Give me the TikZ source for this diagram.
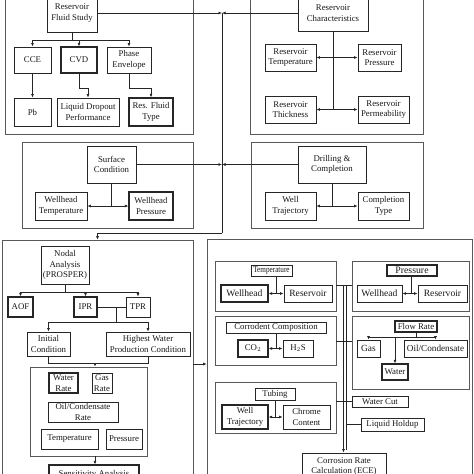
\documentclass[tikz,border=0pt]{standalone}
\usepackage{fontspec}
\setmainfont{Liberation Serif}
\usetikzlibrary{arrows.meta,calc}
\tikzset{
 bx/.style={draw=black!85,line width=0.9pt,rectangle,inner sep=0pt,align=center,font=\fontsize{8.8}{10.6}\selectfont,text=black!90},
 grp/.style={draw=black!65,line width=0.7pt},
 thk/.style={line width=1.25pt},
 ln/.style={draw=black!85,line width=0.8pt},
 arr/.style={ln,-{Latex[length=3.5pt,width=3pt]}},
}
\newcommand\bx[7][]{\node[bx,#1,minimum width={#5-#3},minimum height={#6-#4}] (#2) at ({(#3+#5)/2},{(#4+#6)/2}) {#7};}
\newcommand\fsz[1]{\fontsize{#1}{10.6}\selectfont}
\begin{document}
\begin{tikzpicture}[x=1pt,y=-1pt]
\useasboundingbox (0,0) rectangle (474,474);
\fill[white] (0,0) rectangle (474,474);
% groups
\bx[grp]{g1}{5}{-10}{193}{134}{}
\bx[grp]{g2}{250}{-10}{423}{134}{}
\bx[grp]{g3}{22}{142}{193}{228}{}
\bx[grp]{g4}{251}{142}{423}{228}{}
\bx[grp]{g5}{2}{240}{193}{490}{}
\bx[grp]{g6}{207}{239}{472}{490}{}
\bx[grp]{ib}{30}{367}{147}{456}{}
\bx[grp]{tg}{215}{261}{336}{311}{}
\bx[grp]{pg}{352}{261}{469}{311}{}
\bx[grp]{cg}{215}{316}{336}{365}{}
\bx[grp]{fg}{352}{316}{469}{389}{}
\bx[grp]{tug}{215}{382}{336}{433}{}
% top-left
\bx{rfs}{47}{-6}{97}{32}{Reservoir\\Fluid Study}
\bx{cce}{14}{47}{51}{73}{CCE}
\bx[thk]{cvd}{61}{47}{97}{73}{CVD}
\bx{pe}{107}{47}{151}{73}{Phase\\Envelope}
\bx{pb}{14}{98}{51}{126}{Pb}
\bx{ldp}{57}{98}{119}{126}{Liquid Dropout\\Performance}
\bx[thk]{rft}{129}{98}{173}{126}{Res. Fluid\\Type}
% top-right
\bx{rc}{298}{-5}{368}{31}{Reservoir\\Characteristics}
\bx{rt}{265}{44}{316}{71}{Reservoir\\Temperature}
\bx{rp}{358}{44}{401}{71}{Reservoir\\Pressure}
\bx{rth}{265}{96}{316}{123}{Reservoir\\Thickness}
\bx{rpm}{358}{96}{409}{123}{Reservoir\\Permeability}
% middle
\bx{sc}{87}{146}{136}{183}{Surface\\Condition}
\bx{wt}{35}{192}{87}{220}{Wellhead\\Temperature}
\bx[thk]{wp}{129}{192}{173}{220}{Wellhead\\Pressure}
\bx{dc}{298}{146}{366}{183}{Drilling \&\\Completion}
\bx{wtr}{265}{192}{316}{220}{Well\\Trajectory}
\bx{ct}{358}{192}{409}{220}{Completion\\Type}
% lower-left
\bx{na}{41}{246}{89}{284}{Nodal\\Analysis\\(PROSPER)}
\bx[thk]{aof}{8}{297}{33}{317}{AOF}
\bx[thk]{ipr}{74}{297}{97}{317}{IPR}
\bx{tpr}{126}{297}{150}{317}{TPR}
\bx{ic}{27}{332}{70}{356}{Initial\\Condition}
\bx{hw}{106}{332}{190}{356}{Highest Water\\Production Condition}
\bx[thk]{wr}{49}{373}{78}{393}{Water\\Rate}
\bx{gr}{92}{373}{112}{393}{Gas\\Rate}
\bx{ocr}{48}{402}{118}{422}{Oil/Condensate\\Rate}
\bx{tmp}{41}{429}{98}{449}{Temperature}
\bx{prs}{106}{429}{142}{449}{Pressure}
\bx[thk]{sa}{49}{465}{139}{484}{Sensitivity Analysis}
% lower-right
\bx{tt}{251}{265}{292}{276}{\scalebox{0.82}[1]{Temperature}}
\bx[thk,font=\fsz{9.6}]{wh1}{221}{285}{268}{302}{Wellhead}
\bx[font=\fsz{9.6}]{rs1}{284}{285}{332}{302}{Reservoir}
\bx[thk,font=\fsz{9.8}]{pt}{387}{265}{437}{276}{Pressure}
\bx[font=\fsz{9.6}]{wh2}{357}{285}{402}{302}{Wellhead}
\bx[font=\fsz{9.6}]{rs2}{418}{285}{467}{302}{Reservoir}
\bx{cc}{226}{322}{326}{333}{Corrodent Composition}
\bx[thk]{co2}{238}{340}{268}{357}{CO$_2$}
\bx{h2s}{283}{340}{313}{357}{H$_2$S}
\bx[thk]{fr}{395}{321}{437}{332}{Flow Rate}
\bx[font=\fsz{9.4}]{gas}{357}{340}{380}{357}{Gas}
\bx[font=\fsz{9.2}]{oc}{404}{340}{467}{357}{Oil/Condensate}
\bx[thk]{wat}{382}{364}{408}{380}{Water}
\bx{tub}{255}{388}{295}{400}{Tubing}
\bx[thk]{wtj}{222}{405}{268}{429}{Well\\Trajectory}
\bx{chr}{283}{405}{330}{429}{Chrome\\Content}
\bx{wc}{352}{396}{408}{407}{Water Cut}
\bx{lh}{361}{418}{424}{431}{Liquid Holdup}
\bx{crc}{302}{453}{386}{480}{Corrosion Rate\\Calculation (ECE)}
% ---- connectors top-left
\coordinate (j1) at ($(rfs.south)+(0,8)$);
\draw[ln] (rfs.south) -- (j1);
\draw[arr] (j1) -| (cce);
\draw[arr] (j1) -| (cvd);
\draw[arr] (j1) -| (pe);
\draw[arr] (cce) -- (pb);
\draw[arr] (cvd.south) -- ++(0,15) -| (ldp);
\draw[arr] (pe.south) -- ++(0,15) -| (rft);
% top-right
\coordinate (j2) at (rc.south |- rt);
\coordinate (j3) at (rc.south |- rth);
\draw[ln] (rc.south) -- (j3);
\draw[arr] (j2) -- (rt);
\draw[arr] (j2) -- (rp);
\draw[arr] (j3) -- (rth);
\draw[arr] (j3) -- (rpm);
% bus
\coordinate (bt) at (222,13);
\coordinate (bm) at (222,164.5);
\coordinate (bb) at (222,233);
\draw[arr] (rfs.east) -- (bt);
\draw[arr] (rc.west) -- (bt);
\draw[ln] (bt) -- (bb);
\draw[arr] (bb) -| (g5);
\draw[arr] (sc.east) -- (bm);
\draw[arr] (dc.west) -- (bm);
% middle
\coordinate (j9) at (sc.south |- wt);
\draw[ln] (sc.south) -- (j9);
\draw[arr] (j9) -- (wt);
\draw[arr] (j9) -- (wp);
\coordinate (j10) at (dc.south |- wtr);
\draw[ln] (dc.south) -- (j10);
\draw[arr] (j10) -- (wtr);
\draw[arr] (j10) -- (ct);
% lower-left
\coordinate (j4) at ($(na.south)+(0,8)$);
\draw[ln] (na.south) -- (j4);
\draw[arr] (j4) -| (aof);
\draw[arr] (j4) -| (ipr);
\draw[arr] (j4) -| (tpr);
\draw[ln] (ipr) -- (tpr);
\coordinate (j5) at (116,307);
\coordinate (j6) at (116,322);
\draw[ln] (j5) -- (j6);
\draw[arr] (j6) -| (ic);
\draw[arr] (j6) -| (hw);
\draw[ln] (ic.south) -- ++(0,7) -| (hw.south);
\coordinate (j7) at (95,363);
\draw[arr] (j7) -- (j7 |- ib.north);
\draw[arr] (ib.south -| j7) -- (sa.north -| j7);
\coordinate (j8) at (200,364);
\draw[arr] (j8 -| g5.east) -- (j8 -| g6.west);
% lower-right
\coordinate (k1) at (276,293.5);
\draw[ln] (k1 |- tt.south) -- (k1);
\draw[arr] (k1) -- (wh1);
\draw[arr] (k1) -- (rs1);
\coordinate (k2) at (411,293.5);
\draw[ln] (k2 |- pt.south) -- (k2);
\draw[arr] (k2) -- (wh2);
\draw[arr] (k2) -- (rs2);
\coordinate (k3) at (276,348.5);
\draw[ln] (k3 |- cc.south) -- (k3);
\draw[arr] (k3) -- (co2);
\draw[arr] (k3) -- (h2s);
\coordinate (k4) at (416,337);
\draw[ln] (fr.south) -- (k4);
\draw[arr] (k4) -| (gas);
\draw[arr] (k4) -| (oc);
\draw[arr] (k4 -| wat) -- (wat);
\coordinate (k5) at (275,417);
\draw[ln] (tub) -- (k5);
\draw[arr] (k5) -- (wtj);
\draw[arr] (k5) -- (chr);
% central bus lower right
\coordinate (u1) at (343.5,285.5);
\coordinate (u2) at (346.5,285.5);
\coordinate (v1) at (343.5,341);
\draw[ln] (tg.east |- u1) -- (pg.west |- u1);
\draw[ln] (cg.east |- v1) -- (fg.west |- v1);
\draw[ln] (tug.east |- wc) -- (wc);
\draw[ln] (u2 |- lh) -- (lh);
\draw[ln] (u2) -- ($(u2 |- crc.north)+(0,-3)$);
\draw[arr] (u1) -- (u1 |- crc.north);
\end{tikzpicture}
\end{document}
